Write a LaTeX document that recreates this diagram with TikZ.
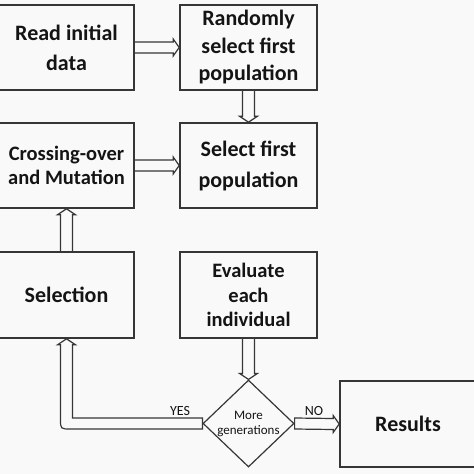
\documentclass[tikz,border=0pt]{standalone}
\usepackage{fontspec}
\setmainfont{Carlito}
\usetikzlibrary{shapes.geometric,calc}
\definecolor{linegray}{HTML}{363636}
\definecolor{bgc}{HTML}{FAF9FA}
\definecolor{txt}{HTML}{141414}
\newcommand\hollowH[2]{\draw[hollow] ($(#1.east)+(0,-5.5)$) -- ($(#2.west)+(-6,-5.5)$) -- ($(#2.west)+(-6,-8.5)$) -- (#2.west) -- ($(#2.west)+(-6,8.5)$) -- ($(#2.west)+(-6,5.5)$) -- ($(#1.east)+(0,5.5)$);}
\newcommand\hollowV[2]{\draw[hollow] ($(#1.south)+(-6,0)$) -- ($(#2.north)+(-6,-6)$) -- ($(#2.north)+(-9,-6)$) -- (#2.north) -- ($(#2.north)+(9,-6)$) -- ($(#2.north)+(6,-6)$) -- ($(#1.south)+(6,0)$);}
\newcommand\hollowU[2]{\draw[hollow] ($(#1.north)+(-6,0)$) -- ($(#2.south)+(-6,6)$) -- ($(#2.south)+(-9,6)$) -- (#2.south) -- ($(#2.south)+(9,6)$) -- ($(#2.south)+(6,6)$) -- ($(#1.north)+(6,0)$);}
\begin{document}
\begin{tikzpicture}[x=1pt,y=-1pt,
  box/.style={draw=linegray, line width=1.6pt, rectangle, inner sep=0pt, align=center, text=txt},
  big/.style={font=\bfseries\fontsize{22}{#1}\selectfont},
  mid/.style={font=\bfseries\fontsize{20.5}{#1}\selectfont},
  small/.style={font=\fontsize{#1}{15}\selectfont, text=txt, inner sep=0pt, align=center},
  decision/.style={diamond, draw=linegray, line width=1.2pt, inner sep=0pt},
  hollow/.style={draw=linegray, line width=1.2pt, line join=miter}]
\useasboundingbox (0,0) rectangle (474,474);
\fill[bgc] (0,0) rectangle (474,474);

\node[box, big=30, minimum width=135pt, minimum height=85pt] (read) at (66.5,47.5) {Read initial\\data};
\node[box, big=27.5, minimum width=137pt, minimum height=85pt] (rand) at (248.5,47.5) {Randomly\\select first\\population};
\node[box, mid=24, minimum width=135pt, minimum height=85pt] (cross) at (66.5,165.5) {Crossing-over\\and Mutation};
\node[box, big=31, minimum width=137pt, minimum height=85pt] (self) at (248.5,165.5) {Select first\\population};
\node[box, big=28, minimum width=135pt, minimum height=86pt] (sel) at (66.5,295) {Selection};
\node[box, mid=24.5, minimum width=137pt, minimum height=86pt] (eval) at (248.5,295) {Evaluate\\each\\individual};
\node[decision, minimum width=91pt, minimum height=87pt] (d) at (248.5,423.5) {};
\node[small=13] (dt) at (d.center) {More\\generations};
\node[box, big=28, minimum width=136pt, minimum height=86pt] (res) at (408,424) {Results};

\hollowH{read}{rand}
\hollowV{rand}{self}
\hollowH{cross}{self}
\hollowU{sel}{cross}
\hollowV{eval}{d}

% NO arrow
\draw[hollow] ($(d.east)+(0,-5.5)$) -- ($(res.west)+(-6,-5.5)$) -- ($(res.west)+(-6,-8.5)$) -- (res.west) -- ($(res.west)+(-6,8.5)$) -- ($(res.west)+(-6,5.5)$) -- ($(d.east)+(0,5.5)$) -- cycle;

% YES path
\coordinate (yt) at ($(d.west)+(0,-5.5)$);
\coordinate (yb) at ($(d.west)+(0,5.5)$);
\coordinate (sr) at ($(sel.south)+(6,0)$);
\coordinate (sl) at ($(sel.south)+(-6,0)$);
\draw[hollow] (yt) -- (sr |- yt) -- ($(sr)+(0,6)$) -- ($(sel.south)+(9,6)$) -- (sel.south) -- ($(sel.south)+(-9,6)$) -- ($(sl)+(0,6)$) -- ($(sl |- yb)+(0,-10)$) .. controls (sl |- yb) .. ($(sl |- yb)+(10,0)$) -- (yb) -- cycle;

\node[small=14] (yes) at (180,411) {YES};
\node[small=14] (no) at (314,411) {NO};
\end{tikzpicture}
\end{document}
